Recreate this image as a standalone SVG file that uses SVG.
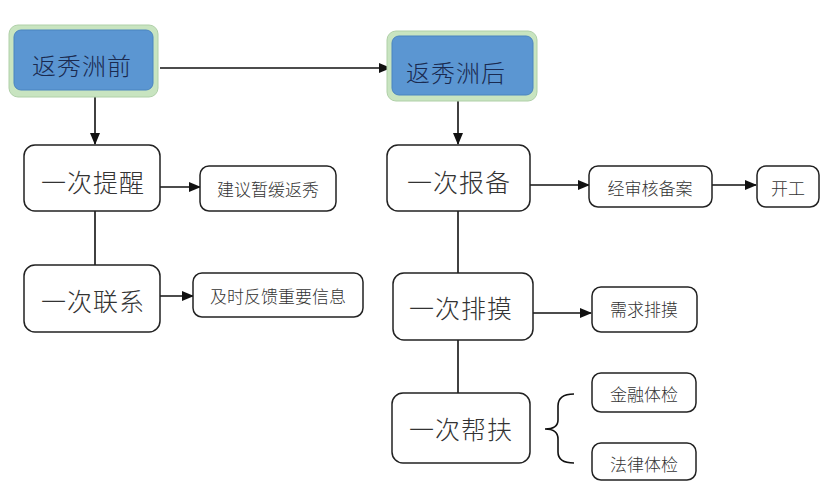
<svg xmlns="http://www.w3.org/2000/svg" width="829" height="504" viewBox="0 0 829 504">
<defs>
<style>
.box{fill:#fff;stroke:#222;stroke-width:1.5}
.outer{fill:#c8e4c0;stroke:#b0d0a8;stroke-width:1}
.inner{fill:#5b96d2;stroke:#4a84c0;stroke-width:1}
.big{font-family:"Noto Sans CJK SC","Noto Sans",sans-serif;font-size:25px;fill:#333;text-anchor:middle;dominant-baseline:central;font-weight:300;letter-spacing:1px}
.head{font-family:"Noto Sans CJK SC","Noto Sans",sans-serif;font-size:24px;fill:#1a2a50;text-anchor:middle;dominant-baseline:central;font-weight:300;letter-spacing:1px}
.small{font-family:"Noto Sans CJK SC","Noto Sans",sans-serif;font-size:17px;fill:#333;text-anchor:middle;dominant-baseline:central;font-weight:300}
.ln{fill:none;stroke:#111;stroke-width:1.6}
</style>
<marker id="arr" markerWidth="12" markerHeight="12" refX="11" refY="6" orient="auto" markerUnits="userSpaceOnUse">
<path d="M0,1 L12,6 L0,11 Z" fill="#111"/>
</marker>
</defs>
<rect width="829" height="504" fill="#fff"/>
<g id="connectors">
<line class="ln" x1="160" y1="68" x2="390" y2="68" marker-end="url(#arr)"/>
<line class="ln" x1="95" y1="97" x2="95" y2="144" marker-end="url(#arr)"/>
<line class="ln" x1="160" y1="187" x2="200" y2="187" marker-end="url(#arr)"/>
<line class="ln" x1="95" y1="211" x2="95" y2="265"/>
<line class="ln" x1="160" y1="296" x2="193" y2="296" marker-end="url(#arr)"/>
<line class="ln" x1="458" y1="101" x2="458" y2="144" marker-end="url(#arr)"/>
<line class="ln" x1="530" y1="185" x2="589" y2="185" marker-end="url(#arr)"/>
<line class="ln" x1="712" y1="185" x2="756" y2="185" marker-end="url(#arr)"/>
<line class="ln" x1="458" y1="211" x2="458" y2="273"/>
<line class="ln" x1="533" y1="313" x2="591" y2="313" marker-end="url(#arr)"/>
<line class="ln" x1="458" y1="340" x2="458" y2="393"/>
<path class="ln" d="M574,394 Q558,394 558,406 L558,420 Q558,429 545,429 Q558,429 558,439 L558,452 Q558,463 574,463" stroke-width="1.3"/>
</g>
<g id="node-qian">
<rect class="outer" x="9" y="25" width="149" height="72" rx="9"/>
<rect class="inner" x="14" y="30" width="139" height="60" rx="7"/>
<text class="head" x="82" y="64">返秀洲前</text>
</g>
<g id="node-hou">
<rect class="outer" x="387" y="31" width="150" height="70" rx="9"/>
<rect class="inner" x="392" y="36" width="141" height="59" rx="7"/>
<text class="head" x="456" y="71">返秀洲后</text>
</g>
<g id="node-tixing">
<rect class="box" x="24" y="145" width="136" height="66" rx="11"/>
<text class="big" x="93" y="181">一次提醒</text>
</g>
<g id="node-jianyi">
<rect class="box" x="200" y="166" width="136" height="45" rx="9"/>
<text class="small" x="268" y="188">建议暂缓返秀</text>
</g>
<g id="node-lianxi">
<rect class="box" x="24" y="265" width="136" height="67" rx="11"/>
<text class="big" x="93" y="300">一次联系</text>
</g>
<g id="node-fankui">
<rect class="box" x="193" y="273" width="170" height="44" rx="9"/>
<text class="small" x="278" y="295">及时反馈重要信息</text>
</g>
<g id="node-baobei">
<rect class="box" x="387" y="145" width="143" height="66" rx="11"/>
<text class="big" x="459" y="181">一次报备</text>
</g>
<g id="node-shenhe">
<rect class="box" x="589" y="166" width="123" height="41" rx="9"/>
<text class="small" x="650" y="187">经审核备案</text>
</g>
<g id="node-kaigong">
<rect class="box" x="757" y="166" width="62" height="41" rx="9"/>
<text class="small" x="788" y="187">开工</text>
</g>
<g id="node-paimo">
<rect class="box" x="393" y="273" width="140" height="67" rx="11"/>
<text class="big" x="461" y="307">一次排摸</text>
</g>
<g id="node-xuqiu">
<rect class="box" x="592" y="287" width="105" height="45" rx="9"/>
<text class="small" x="644" y="308">需求排摸</text>
</g>
<g id="node-bangfu">
<rect class="box" x="392" y="393" width="138" height="70" rx="11"/>
<text class="big" x="461" y="428">一次帮扶</text>
</g>
<g id="node-jinrong">
<rect class="box" x="592" y="373" width="104" height="39" rx="9"/>
<text class="small" x="644" y="393">金融体检</text>
</g>
<g id="node-falv">
<rect class="box" x="592" y="443" width="104" height="37" rx="9"/>
<text class="small" x="644" y="463">法律体检</text>
</g>
</svg>
